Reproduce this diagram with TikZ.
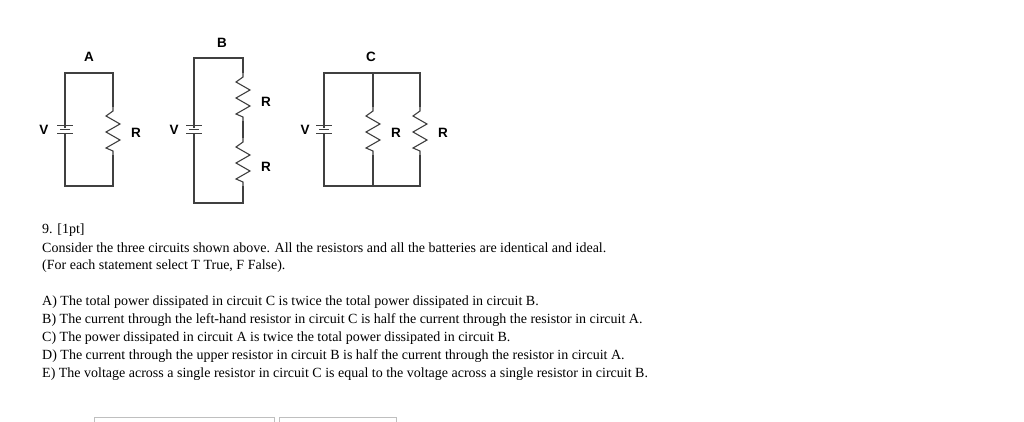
\documentclass[tikz,border=0pt]{standalone}
\usepackage{fontspec}
\setmainfont{Liberation Serif}
\newfontfamily\lab{Liberation Sans}
\begin{document}
\begin{tikzpicture}[x=1pt,y=-1pt,
  wire/.style={draw=black!75,line width=1.1pt},
  plate/.style={draw=black!75,line width=0.8pt},
  lbl/.style={font=\lab\bfseries\fontsize{13.5}{13.5}\selectfont,inner sep=0pt},
  txt/.style={font=\fontsize{14}{16}\selectfont,anchor=west,inner sep=0pt},
  resist/.pic={\draw[wire] (0,0) -- (0,4) -- (-7,9) -- (7,17) -- (-7,25) -- (7,33) -- (-7,41) -- (0,44) -- (0,48);},
  batt/.pic={\draw[wire] (0,0)--(0,-5); \draw[wire] (0,6)--(0,10);
    \draw[plate] (-8,-3)--(8,-3); \draw[plate] (-5,1)--(5,1); \draw[plate] (-8,5)--(8,5);}]
\useasboundingbox[fill=white] (0,0) rectangle (1024,421);
% Circuit A
\node[lbl] (la) at (89,57) {A};
\coordinate (a1) at (65,73); \coordinate (a2) at (113,73);
\coordinate (a3) at (113,186); \coordinate (a4) at (65,186);
\draw[wire] (65,123) -- (a1) -- (a2) -- (113,107);
\pic at (113,107) {resist};
\draw[wire] (113,155) -- (a3) -- (a4) -- (65,133);
\pic at (65,128) {batt};
\node[lbl] (va) at (44,130) {V};
\node[lbl] (ra) at (136,133) {R};
% Circuit B
\node[lbl] (lb) at (222,43) {B};
\draw[wire] (194,123) -- (194,58) -- (243,58) -- (243,73);
\pic at (243,73) {resist};
\draw[wire] (243,121) -- (243,138);
\pic at (243,138) {resist};
\draw[wire] (243,186) -- (243,203) -- (194,203) -- (194,133);
\pic at (194,128) {batt};
\node[lbl] (vb) at (174,130) {V};
\node[lbl] (rb1) at (266,102) {R};
\node[lbl] (rb2) at (266,167) {R};
% Circuit C
\node[lbl] (lc) at (371,57) {C};
\draw[wire] (324,123) -- (324,73) -- (420,73) -- (420,107);
\draw[wire] (373,73) -- (373,107);
\pic at (373,107) {resist};
\pic at (420,107) {resist};
\draw[wire] (373,155) -- (373,186);
\draw[wire] (420,155) -- (420,186) -- (324,186) -- (324,133);
\pic at (324,128) {batt};
\node[lbl] (vc) at (305,130) {V};
\node[lbl] (rc1) at (396,133) {R};
\node[lbl] (rc2) at (443,133) {R};
% Text
\node[txt] (t0) at (42,230) {9. [1pt]};
\node[txt] (t1) at (42,248) {Consider the three circuits shown above. All the resistors and all the batteries are identical and ideal.};
\node[txt] (t2) at (42,266) {(For each statement select T True, F False).};
\node[txt] (qa) at (42,302) {A) The total power dissipated in circuit C is twice the total power dissipated in circuit B.};
\node[txt] (qb) at (42,320) {B) The current through the left-hand resistor in circuit C is half the current through the resistor in circuit A.};
\node[txt] (qc) at (42,338) {C) The power dissipated in circuit A is twice the total power dissipated in circuit B.};
\node[txt] (qd) at (42,356) {D) The current through the upper resistor in circuit B is half the current through the resistor in circuit A.};
\node[txt] (qe) at (42,374) {E) The voltage across a single resistor in circuit C is equal to the voltage across a single resistor in circuit B.};
\draw[black!25,line width=1pt] (94,425) -- (94,417) -- (274,417) -- (274,425);
\draw[black!25,line width=1pt] (279,425) -- (279,417) -- (396,417) -- (396,425);
\end{tikzpicture}
\end{document}
